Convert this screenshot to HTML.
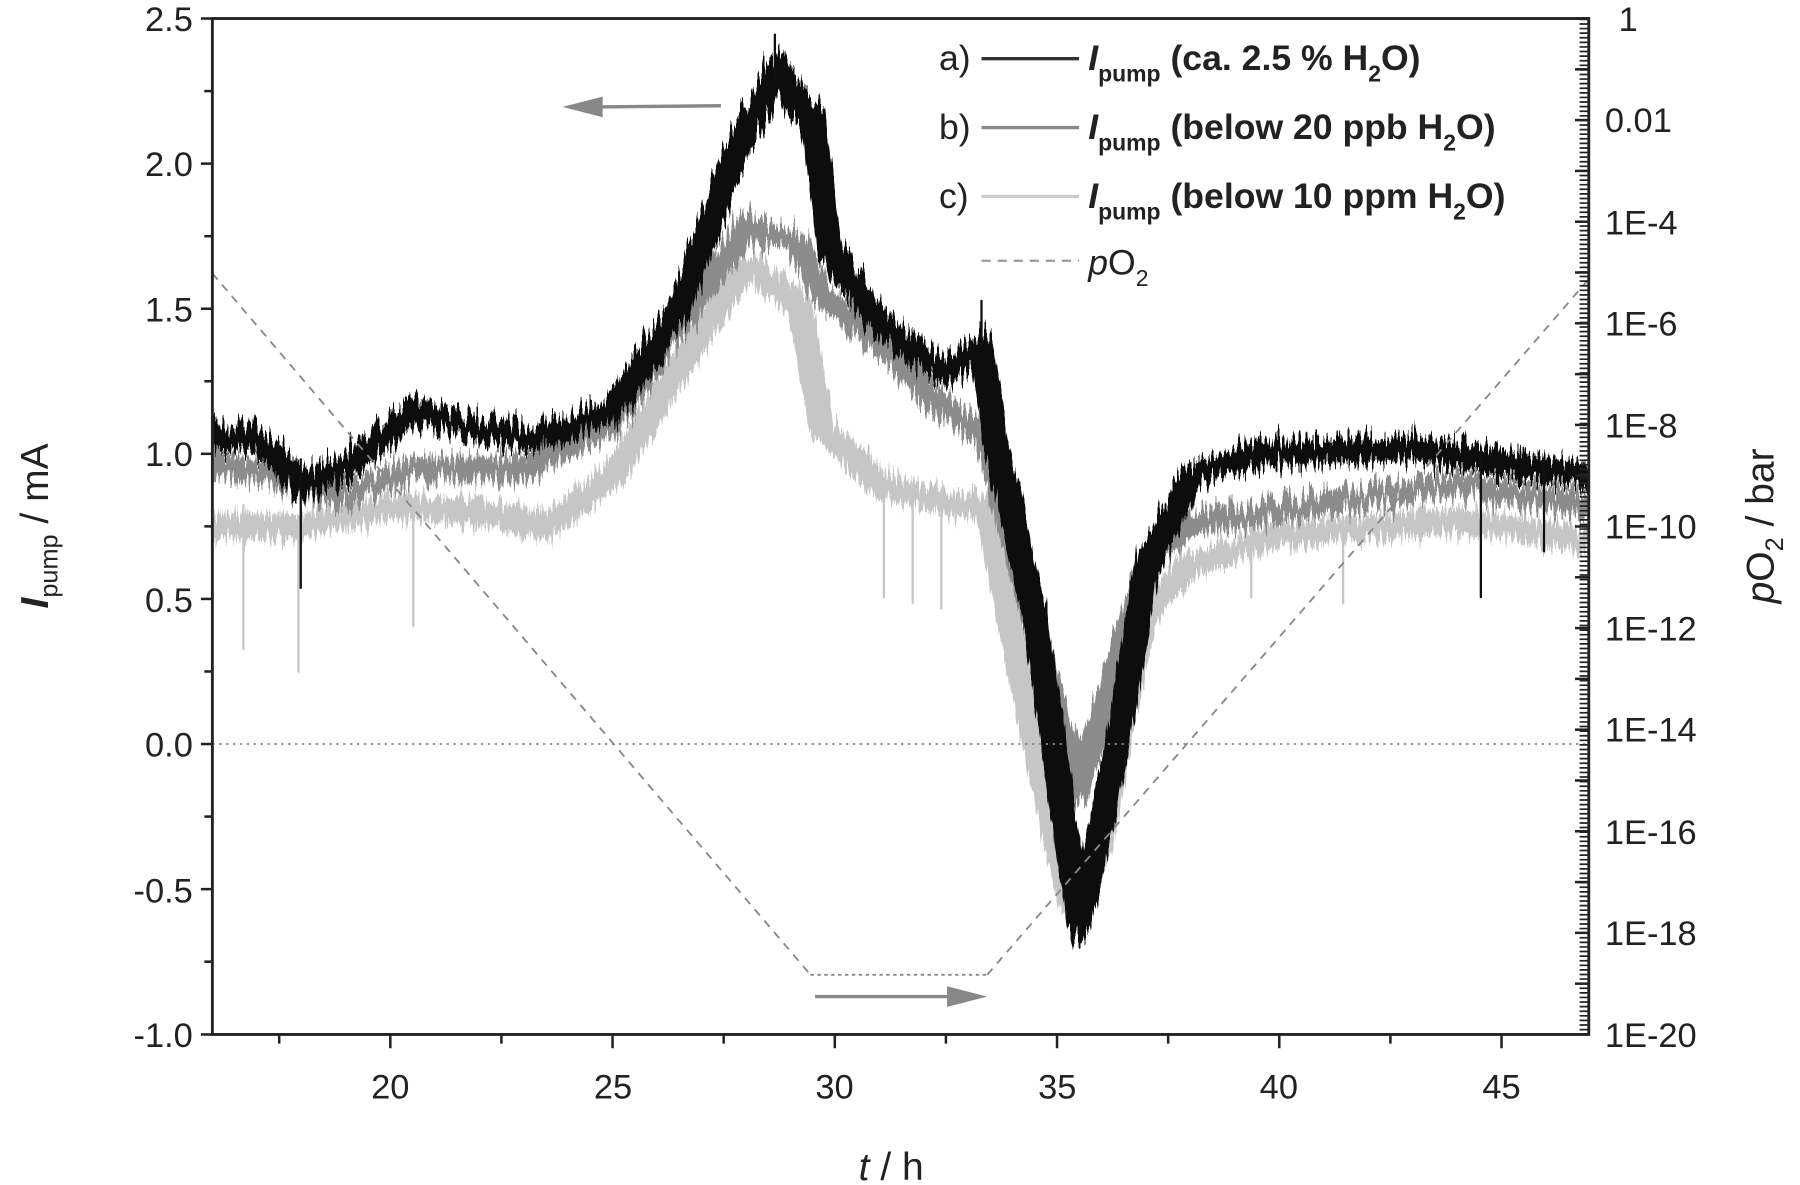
<!DOCTYPE html>
<html><head><meta charset="utf-8"><style>
html,body{margin:0;padding:0;background:#fff}
svg{display:block}
text{font-family:"Liberation Sans",Arial,sans-serif;fill:#222}
</style></head><body>
<svg width="1800" height="1185" viewBox="0 0 1568 1032" xmlns="http://www.w3.org/2000/svg">
<defs>
<filter id="n1" x="-5%" y="-20%" width="110%" height="140%">
<feTurbulence type="fractalNoise" baseFrequency="0.45 0.015" numOctaves="2" seed="3" result="t"/>
<feColorMatrix in="t" type="matrix" values="0 0 0 0 0.5  0 1 0 0 0  0 0 1 0 0  0 0 0 0 1" result="t2"/>
<feDisplacementMap in="SourceGraphic" in2="t2" scale="42" xChannelSelector="R" yChannelSelector="G"/>
</filter>
<filter id="n2" x="-5%" y="-20%" width="110%" height="140%">
<feTurbulence type="fractalNoise" baseFrequency="0.5 0.02" numOctaves="2" seed="8" result="t"/>
<feColorMatrix in="t" type="matrix" values="0 0 0 0 0.5  0 1 0 0 0  0 0 1 0 0  0 0 0 0 1" result="t2"/>
<feDisplacementMap in="SourceGraphic" in2="t2" scale="34" xChannelSelector="R" yChannelSelector="G"/>
</filter>
<clipPath id="cp"><rect x="186" y="17" width="1197" height="883"/></clipPath>
</defs>
<g clip-path="url(#cp)" fill="none" stroke-linejoin="round" stroke-linecap="round">
<g filter="url(#n2)">
<polyline stroke="#c6c6c6" stroke-width="22" points="185,458.4 262.6,458.4 340,440.7 417.4,445.8 475.5,458.4 533.6,415.4 591.7,319.4 649.8,230.9 696.2,263.7 715.6,369.9 765.9,420.5 824,438.2 858.8,440.7 901.4,648 932.4,787 959.5,736.5 978.9,622.7 998.2,534.2 1036.9,491.3 1114.4,466 1269.3,453.3 1385.4,471"/>
</g>
<g stroke="#c6c6c6" stroke-width="2">
<line x1="212" y1="440" x2="212" y2="565"/><line x1="260" y1="450" x2="260" y2="585"/><line x1="360" y1="450" x2="360" y2="545"/>
<line x1="770" y1="420" x2="770" y2="520"/><line x1="795" y1="430" x2="795" y2="525"/><line x1="820" y1="430" x2="820" y2="530"/>
<line x1="1090" y1="470" x2="1090" y2="520"/><line x1="1170" y1="450" x2="1170" y2="525"/>
</g>
<g filter="url(#n1)">
<polyline stroke="#8c8c8c" stroke-width="20" points="185,402.8 262.6,420.5 301.3,433.1 359.4,407.8 456.2,407.8 533.6,369.9 591.7,281.4 649.8,198 696.2,213.2 715.6,256.2 765.9,299.1 824,357.3 858.8,382.6 901.4,546.9 940.2,685.9 978.9,559.5 998.2,491.3 1036.9,455.9 1114.4,445.8 1269.3,420.5 1385.4,440.7"/>
</g>
<g filter="url(#n1)">
<polyline stroke="#111" stroke-width="22" points="185,382.6 223.8,382.6 262.6,420.5 301.3,407.8 359.4,357.3 398.1,369.9 456.2,382.6 533.6,357.3 591.7,268.8 642,129.8 676.9,61.5 707.9,104.5 723.3,218.2 765.9,281.4 824,324.4 855,299.1 866.6,382.6 901.4,534.2 940.2,804.7 971.1,660.6 998.2,496.3 1036.9,415.4 1095,395.2 1230.6,390.1 1385.4,415.4"/>
</g>
<g stroke="#111" stroke-width="2">
<line x1="262" y1="400" x2="262" y2="512"/><line x1="675" y1="30" x2="675" y2="70"/><line x1="855" y1="262" x2="855" y2="300"/>
<line x1="1345" y1="400" x2="1345" y2="480"/><line x1="1290" y1="400" x2="1290" y2="520"/>
</g>
</g>
<line x1="185" y1="648" x2="1384" y2="648" stroke="#888" stroke-width="1.5" stroke-dasharray="2,4"/>
<polyline points="185,238 706,849" fill="none" stroke="#888" stroke-width="1.6" stroke-dasharray="7,6"/>
<polyline points="706,849 860,849" fill="none" stroke="#888" stroke-width="1.6" stroke-dasharray="3,3"/>
<polyline points="860,849 1384,243" fill="none" stroke="#888" stroke-width="1.6" stroke-dasharray="7,6"/>
<line x1="520" y1="93" x2="628" y2="92" stroke="#888" stroke-width="3"/>
<polygon points="490,93 525,84 525,102" fill="#888"/>
<line x1="710" y1="868" x2="830" y2="868" stroke="#888" stroke-width="3"/>
<polygon points="860,868 825,859 825,877" fill="#888"/>
<rect x="185" y="16" width="1199" height="885" fill="none" stroke="#222" stroke-width="2.5"/>
<g stroke="#222" stroke-width="2.2">
<line x1="175" y1="16" x2="185" y2="16"/><line x1="178" y1="79.2" x2="185" y2="79.2"/>
<line x1="175" y1="142.4" x2="185" y2="142.4"/><line x1="178" y1="205.6" x2="185" y2="205.6"/>
<line x1="175" y1="268.8" x2="185" y2="268.8"/><line x1="178" y1="332" x2="185" y2="332"/>
<line x1="175" y1="395.2" x2="185" y2="395.2"/><line x1="178" y1="458.4" x2="185" y2="458.4"/>
<line x1="175" y1="521.6" x2="185" y2="521.6"/><line x1="178" y1="584.8" x2="185" y2="584.8"/>
<line x1="175" y1="648" x2="185" y2="648"/><line x1="178" y1="711.2" x2="185" y2="711.2"/>
<line x1="175" y1="774.4" x2="185" y2="774.4"/><line x1="178" y1="837.6" x2="185" y2="837.6"/>
<line x1="175" y1="901" x2="185" y2="901"/>
<line x1="243.2" y1="901" x2="243.2" y2="909"/><line x1="340" y1="901" x2="340" y2="913"/>
<line x1="436.8" y1="901" x2="436.8" y2="909"/><line x1="533.6" y1="901" x2="533.6" y2="913"/>
<line x1="630.4" y1="901" x2="630.4" y2="909"/><line x1="727.2" y1="901" x2="727.2" y2="913"/>
<line x1="824" y1="901" x2="824" y2="909"/><line x1="920.8" y1="901" x2="920.8" y2="913"/>
<line x1="1017.6" y1="901" x2="1017.6" y2="909"/><line x1="1114.4" y1="901" x2="1114.4" y2="913"/>
<line x1="1211.2" y1="901" x2="1211.2" y2="909"/><line x1="1308" y1="901" x2="1308" y2="913"/>
</g>
<line x1="1380" y1="16" x2="1380" y2="901" stroke="#222" stroke-width="8" stroke-dasharray="1.5,2.5"/>
<g stroke="#222" stroke-width="2.2">
<line x1="1372" y1="16" x2="1384" y2="16"/><line x1="1372" y1="60.25" x2="1384" y2="60.25"/>
<line x1="1372" y1="104.5" x2="1384" y2="104.5"/><line x1="1372" y1="148.75" x2="1384" y2="148.75"/>
<line x1="1372" y1="193" x2="1384" y2="193"/><line x1="1372" y1="237.25" x2="1384" y2="237.25"/>
<line x1="1372" y1="281.5" x2="1384" y2="281.5"/><line x1="1372" y1="325.75" x2="1384" y2="325.75"/>
<line x1="1372" y1="370" x2="1384" y2="370"/><line x1="1372" y1="414.25" x2="1384" y2="414.25"/>
<line x1="1372" y1="458.5" x2="1384" y2="458.5"/><line x1="1372" y1="502.75" x2="1384" y2="502.75"/>
<line x1="1372" y1="547" x2="1384" y2="547"/><line x1="1372" y1="591.25" x2="1384" y2="591.25"/>
<line x1="1372" y1="635.5" x2="1384" y2="635.5"/><line x1="1372" y1="679.75" x2="1384" y2="679.75"/>
<line x1="1372" y1="724" x2="1384" y2="724"/><line x1="1372" y1="768.25" x2="1384" y2="768.25"/>
<line x1="1372" y1="812.5" x2="1384" y2="812.5"/><line x1="1372" y1="856.75" x2="1384" y2="856.75"/>
</g>
<g font-size="30" text-anchor="end">
<text x="168" y="27">2.5</text><text x="168" y="153">2.0</text><text x="168" y="280">1.5</text>
<text x="168" y="406">1.0</text><text x="168" y="533">0.5</text><text x="168" y="659">0.0</text>
<text x="168" y="786">-0.5</text><text x="168" y="912">-1.0</text>
</g>
<g font-size="30" text-anchor="middle">
<text x="340" y="957">20</text><text x="534" y="957">25</text><text x="727" y="957">30</text>
<text x="921" y="957">35</text><text x="1114" y="957">40</text><text x="1308" y="957">45</text>
</g>
<g font-size="30" text-anchor="start">
<text x="1410" y="27">1</text><text x="1398" y="115">0.01</text><text x="1398" y="204">1E-4</text>
<text x="1398" y="292">1E-6</text><text x="1398" y="381">1E-8</text><text x="1398" y="469">1E-10</text>
<text x="1398" y="558">1E-12</text><text x="1398" y="646">1E-14</text><text x="1398" y="735">1E-16</text>
<text x="1398" y="823">1E-18</text><text x="1398" y="912">1E-20</text>
</g>
<text x="748" y="1028" font-size="34"><tspan font-style="italic">t</tspan> / h</text>
<text transform="translate(42,458) rotate(-90)" font-size="34" text-anchor="middle"><tspan font-style="italic" font-weight="bold">I</tspan><tspan font-size="22" dy="8">pump</tspan><tspan dy="-8"> / mA</tspan></text>
<text transform="translate(1545,458) rotate(-90)" font-size="34" text-anchor="middle"><tspan font-style="italic">p</tspan>O<tspan font-size="22" dy="8">2</tspan><tspan dy="-8"> / bar</tspan></text>
<g font-size="31" font-weight="bold">
<text x="818" y="61" font-weight="normal">a)</text>
<line x1="855" y1="51" x2="940" y2="51" stroke="#333" stroke-width="3"/>
<text x="948" y="61"><tspan font-style="italic">I</tspan><tspan font-size="20" dy="10">pump</tspan><tspan dy="-10"> (ca. 2.5 % H</tspan><tspan font-size="20" dy="10">2</tspan><tspan dy="-10">O)</tspan></text>
<text x="818" y="121" font-weight="normal">b)</text>
<line x1="855" y1="111" x2="940" y2="111" stroke="#888" stroke-width="3"/>
<text x="948" y="121"><tspan font-style="italic">I</tspan><tspan font-size="20" dy="10">pump</tspan><tspan dy="-10"> (below 20 ppb H</tspan><tspan font-size="20" dy="10">2</tspan><tspan dy="-10">O)</tspan></text>
<text x="818" y="181" font-weight="normal">c)</text>
<line x1="855" y1="171" x2="940" y2="171" stroke="#ccc" stroke-width="3"/>
<text x="948" y="181"><tspan font-style="italic">I</tspan><tspan font-size="20" dy="10">pump</tspan><tspan dy="-10"> (below 10 ppm H</tspan><tspan font-size="20" dy="10">2</tspan><tspan dy="-10">O)</tspan></text>
<line x1="855" y1="227" x2="940" y2="227" stroke="#999" stroke-width="2" stroke-dasharray="8,6"/>
<text x="948" y="239" font-weight="normal"><tspan font-style="italic">p</tspan>O<tspan font-size="20" dy="10">2</tspan></text>
</g>
</svg>
</body></html>
